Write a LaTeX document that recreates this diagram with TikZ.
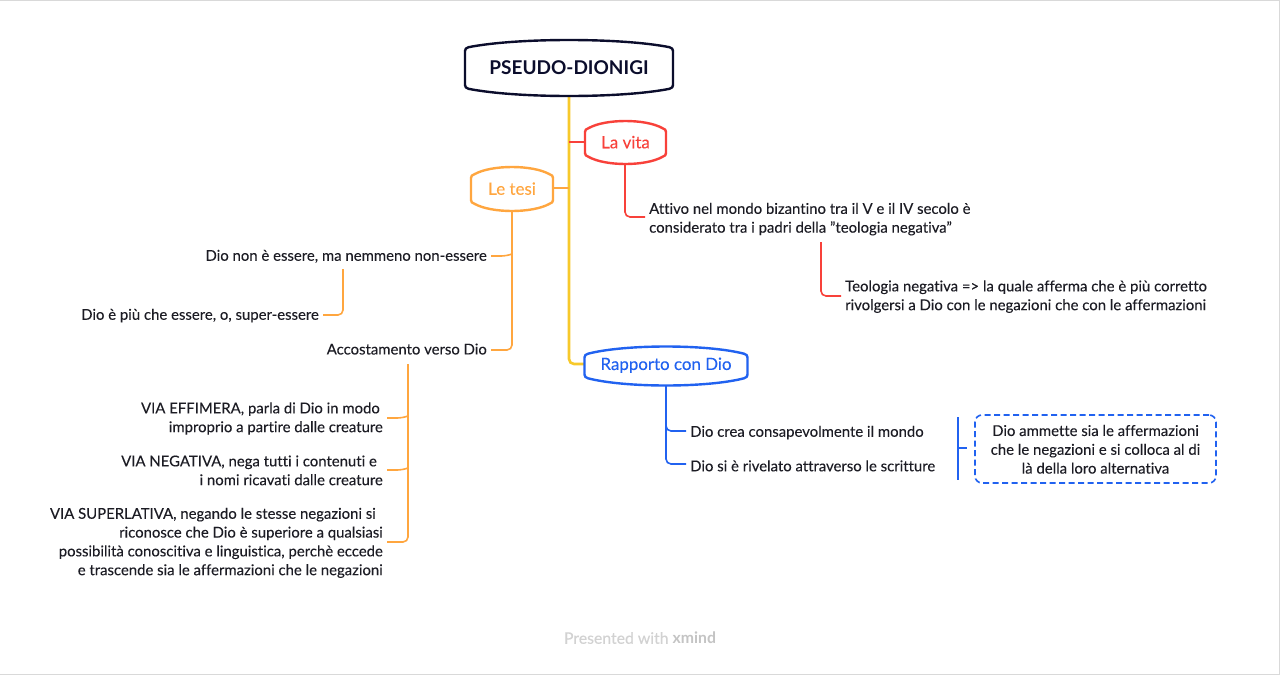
\documentclass[tikz,border=0pt]{standalone}
\usepackage{fontspec}
\setmainfont{Lato}[Ligatures=NoCommon,UprightFeatures={FakeBold=0.06}]
\usetikzlibrary{calc}
\definecolor{navy}{HTML}{0B0D2C}
\definecolor{ink}{HTML}{1C1C24}
\definecolor{yel}{HTML}{F7C92B}
\definecolor{redc}{HTML}{F8413A}
\definecolor{ora}{HTML}{FFA63F}
\definecolor{blu}{HTML}{2162F0}
\definecolor{edge}{HTML}{D9D9D9}
\definecolor{footc}{HTML}{D2D2D2}
\definecolor{footb}{HTML}{C4C4C4}
\newcommand{\lstrut}{\rule[-3.5pt]{0pt}{18.5pt}}
\tikzset{
  x=1pt,y=-1pt,
  body/.style={font=\fontsize{14.9}{18.8}\selectfont,text=ink,inner sep=0pt},
  conn/.style={line width=1.6pt,rounded corners=5pt},
  frame/.style={line width=2.4pt,line join=round},
}
% name, cx, cy, half width, half height, colour, label y, label font, text
\newcommand{\bulgebox}[9]{%
  \draw[frame,draw=#6,fill=white]
    (#2-#4,#3-#5+11) .. controls (#2-#4,#3-#5+9) and (#2-#4+1,#3-#5+8) .. (#2-#4+3.5,#3-#5+7.2)
    .. controls (#2-#4*0.5,#3-#5-2.4) and (#2+#4*0.5,#3-#5-2.4) .. (#2+#4-3.5,#3-#5+7.2)
    .. controls (#2+#4-1,#3-#5+8) and (#2+#4,#3-#5+9) .. (#2+#4,#3-#5+11)
    -- (#2+#4,#3+#5-11)
    .. controls (#2+#4,#3+#5-9) and (#2+#4-1,#3+#5-8) .. (#2+#4-3.5,#3+#5-7.2)
    .. controls (#2+#4*0.5,#3+#5+2.4) and (#2-#4*0.5,#3+#5+2.4) .. (#2-#4+3.5,#3+#5-7.2)
    .. controls (#2-#4+1,#3+#5-8) and (#2-#4,#3+#5-9) .. (#2-#4,#3+#5-11)
    -- cycle;
  \node[inner sep=0pt,text=#6,font=#8] (#1) at (#2,#7) {\lstrut #9};
}
\begin{document}
\begin{tikzpicture}
\useasboundingbox (0,0) rectangle (1280,675);
\fill[white] (0,0) rectangle (1280,675);
\draw[edge,line width=1pt] (0,0.5) -- (1280,0.5);
\draw[edge,line width=1pt] (0,674.5) -- (1280,674.5);
\draw[edge,line width=1pt] (1279.5,0) -- (1279.5,675);

% junction coordinates
\coordinate (mainTop) at (569,96);
\coordinate (jVita) at (569,142);
\coordinate (jTesi) at (569,188);
\coordinate (rapIn) at (585,364);
\coordinate (vitaOut) at (625,164);
\coordinate (attivoIn) at (645,217);
\coordinate (teoTop) at (821,242);
\coordinate (teoIn) at (841,296);
\coordinate (tesiOut) at (512,210);
\coordinate (nonIn) at (491,256);
\coordinate (jNon) at (512,254);
\coordinate (accIn) at (491,350);
\coordinate (piuTop) at (343,269);
\coordinate (piuIn) at (323,315);
\coordinate (viaTop) at (408,364);
\coordinate (effIn) at (387,418);
\coordinate (jEff) at (408,416);
\coordinate (negIn) at (387,470);
\coordinate (jNeg) at (408,468);
\coordinate (supIn) at (387,542);
\coordinate (rapOut) at (666,386);
\coordinate (creaIn) at (686,431);
\coordinate (rivIn) at (686,464);
\coordinate (brTop) at (958,417);
\coordinate (brBot) at (958,480);
\coordinate (brMid) at (958,448);
\coordinate (brEnd) at (967,448);

% connectors
\draw[line width=2.6pt,draw=yel,rounded corners=5pt] (mainTop) |- (rapIn);
\draw[line width=2.2pt,draw=redc] (jVita) -- (585,142);
\draw[line width=2.2pt,draw=ora] (jTesi) -- (553,188);
\draw[conn,draw=redc] (vitaOut) |- (attivoIn);
\draw[conn,draw=redc] (teoTop) |- (teoIn);
\draw[conn,draw=ora] (tesiOut) |- (accIn);
\draw[conn,draw=ora] (nonIn) -- (506,256) -- (jNon);
\draw[conn,draw=ora] (piuTop) |- (piuIn);
\draw[conn,draw=ora] (viaTop) |- (supIn);
\draw[conn,draw=ora] (effIn) -- (402,418) -- (jEff);
\draw[conn,draw=ora] (negIn) -- (402,470) -- (jNeg);
\draw[conn,draw=blu] (rapOut) |- (rivIn);
\draw[conn,draw=blu] (666,426) |- (creaIn);
\draw[line width=1.6pt,draw=blu] (brTop) -- (brBot);
\draw[line width=1.6pt,draw=blu] (brMid) -- (brEnd);

% topics
\bulgebox{root}{569}{68}{104}{28}{navy}{69}{\fontsize{19}{22}\selectfont\bfseries}{PSEUDO-DIONIGI}
\bulgebox{vita}{625.5}{142.5}{40.5}{21.5}{redc}{142.5}{\fontsize{16.9}{19}\selectfont}{La vita}
\bulgebox{tesi}{512}{189}{41}{22}{ora}{189}{\fontsize{16.9}{19}\selectfont}{Le tesi}
\bulgebox{rapporto}{666}{366}{81.5}{19.5}{blu}{364.2}{\fontsize{16.9}{19}\selectfont}{Rapporto con Dio}

% body text
\node[body,anchor=west,align=left] (attivo) at (649,217.5) {\lstrut Attivo nel mondo bizantino tra il V e il IV secolo è\\\lstrut considerato tra i padri della "teologia negativa"};
\node[body,anchor=west,align=left] (teo) at (845,295) {\lstrut Teologia negativa => la quale afferma che è più corretto\\\lstrut rivolgersi a Dio con le negazioni che con le affermazioni};
\node[body,anchor=east] (non) at (487,255) {\lstrut Dio non è essere, ma nemmeno non-essere};
\node[body,anchor=east] (piu) at (319,314) {\lstrut Dio è più che essere, o, super-essere};
\node[body,anchor=east] (acc) at (487,348.7) {\lstrut Accostamento verso Dio};
\node[body,anchor=east,align=right] (eff) at (383,417) {\lstrut VIA EFFIMERA, parla di Dio in modo\hspace*{3pt}\\\lstrut improprio a partire dalle creature};
\node[body,anchor=east,align=right] (neg) at (383,470) {\lstrut VIA NEGATIVA, nega tutti i contenuti e\hspace*{6pt}\\\lstrut i nomi ricavati dalle creature};
\node[body,anchor=east,align=right] (sup) at (383,541.2) {\lstrut VIA SUPERLATIVA, negando le stesse negazioni si\hspace*{7pt}\\\lstrut riconosce che Dio è superiore a qualsiasi\\\lstrut possibilità conoscitiva e linguistica, perchè eccede\\\lstrut e trascende sia le affermazioni che le negazioni};
\node[body,anchor=west] (crea) at (690,431) {\lstrut Dio crea consapevolmente il mondo};
\node[body,anchor=west] (riv) at (690,465.5) {\lstrut Dio si è rivelato attraverso le scritture};
\node[body,draw=blu,line width=1.6pt,dash pattern=on 6pt off 3.5pt,rounded corners=7pt,align=center,minimum width=241pt,minimum height=68pt] (ammette) at (1095.5,449) {\lstrut Dio ammette sia le affermazioni\\\lstrut che le negazioni e si colloca al di\\\lstrut là della loro alternativa};

\node[inner sep=0pt,text=footc,font=\fontsize{15.8}{18}\selectfont] (foot) at (640,638) {\lstrut Presented with \textcolor{footb}{\textbf{xmind}}};
\end{tikzpicture}
\end{document}
